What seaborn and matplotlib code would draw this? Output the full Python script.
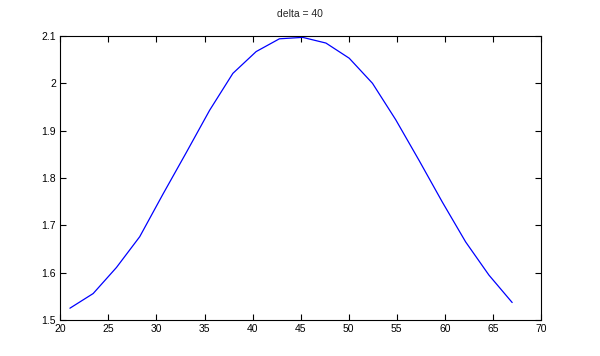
import matplotlib
matplotlib.use("Agg")
import matplotlib.pyplot as plt
import seaborn as sns
import pandas as pd
from matplotlib.ticker import FuncFormatter

x_vals = [21.0, 23.42, 25.84, 28.26, 30.68, 33.11, 35.53, 37.95, 40.37, 42.79,
          45.21, 47.63, 50.05, 52.47, 54.89, 57.32, 59.74, 62.16, 64.58, 67.0]
y_vals = [1.525, 1.556, 1.611, 1.676, 1.766, 1.854, 1.943, 2.021, 2.067, 2.094,
          2.097, 2.085, 2.053, 2.000, 1.923, 1.837, 1.749, 1.665, 1.595, 1.537]
x_ticks = [20, 25, 30, 35, 40, 45, 50, 55, 60, 65, 70]
y_ticks = [1.5, 1.6, 1.7, 1.8, 1.9, 2.0, 2.1]
title = "delta = 40"

sns.set_style("ticks")
plt.rcParams['font.family'] = ['Liberation Sans', 'DejaVu Sans']

df = pd.DataFrame({"x": x_vals, "y": y_vals})
fig = plt.figure(figsize=(6.0, 3.56), dpi=100)
ax = fig.add_axes([0.1005, 0.101, 0.8012, 0.798])
sns.lineplot(data=df, x="x", y="y", color="#0000ff", linewidth=0.9, ax=ax)
ax.set_xlim(20, 70)
ax.set_ylim(1.5, 2.1)
ax.set_xticks(x_ticks)
ax.set_yticks(y_ticks)
ax.yaxis.set_major_formatter(FuncFormatter(lambda v, p: f"{v:g}"))
ax.set_xlabel("")
ax.set_ylabel("")
ax.tick_params(direction="in", length=4, width=0.8, labelsize=7.5,
               top=True, right=True, colors="black", pad=3)
for s in ax.spines.values():
    s.set_visible(True)
    s.set_linewidth(0.8)
    s.set_color("black")
fig.text(0.5, 0.975, title, ha="center", va="top", fontsize=7.5)
fig.savefig("out.png", dpi=100)
